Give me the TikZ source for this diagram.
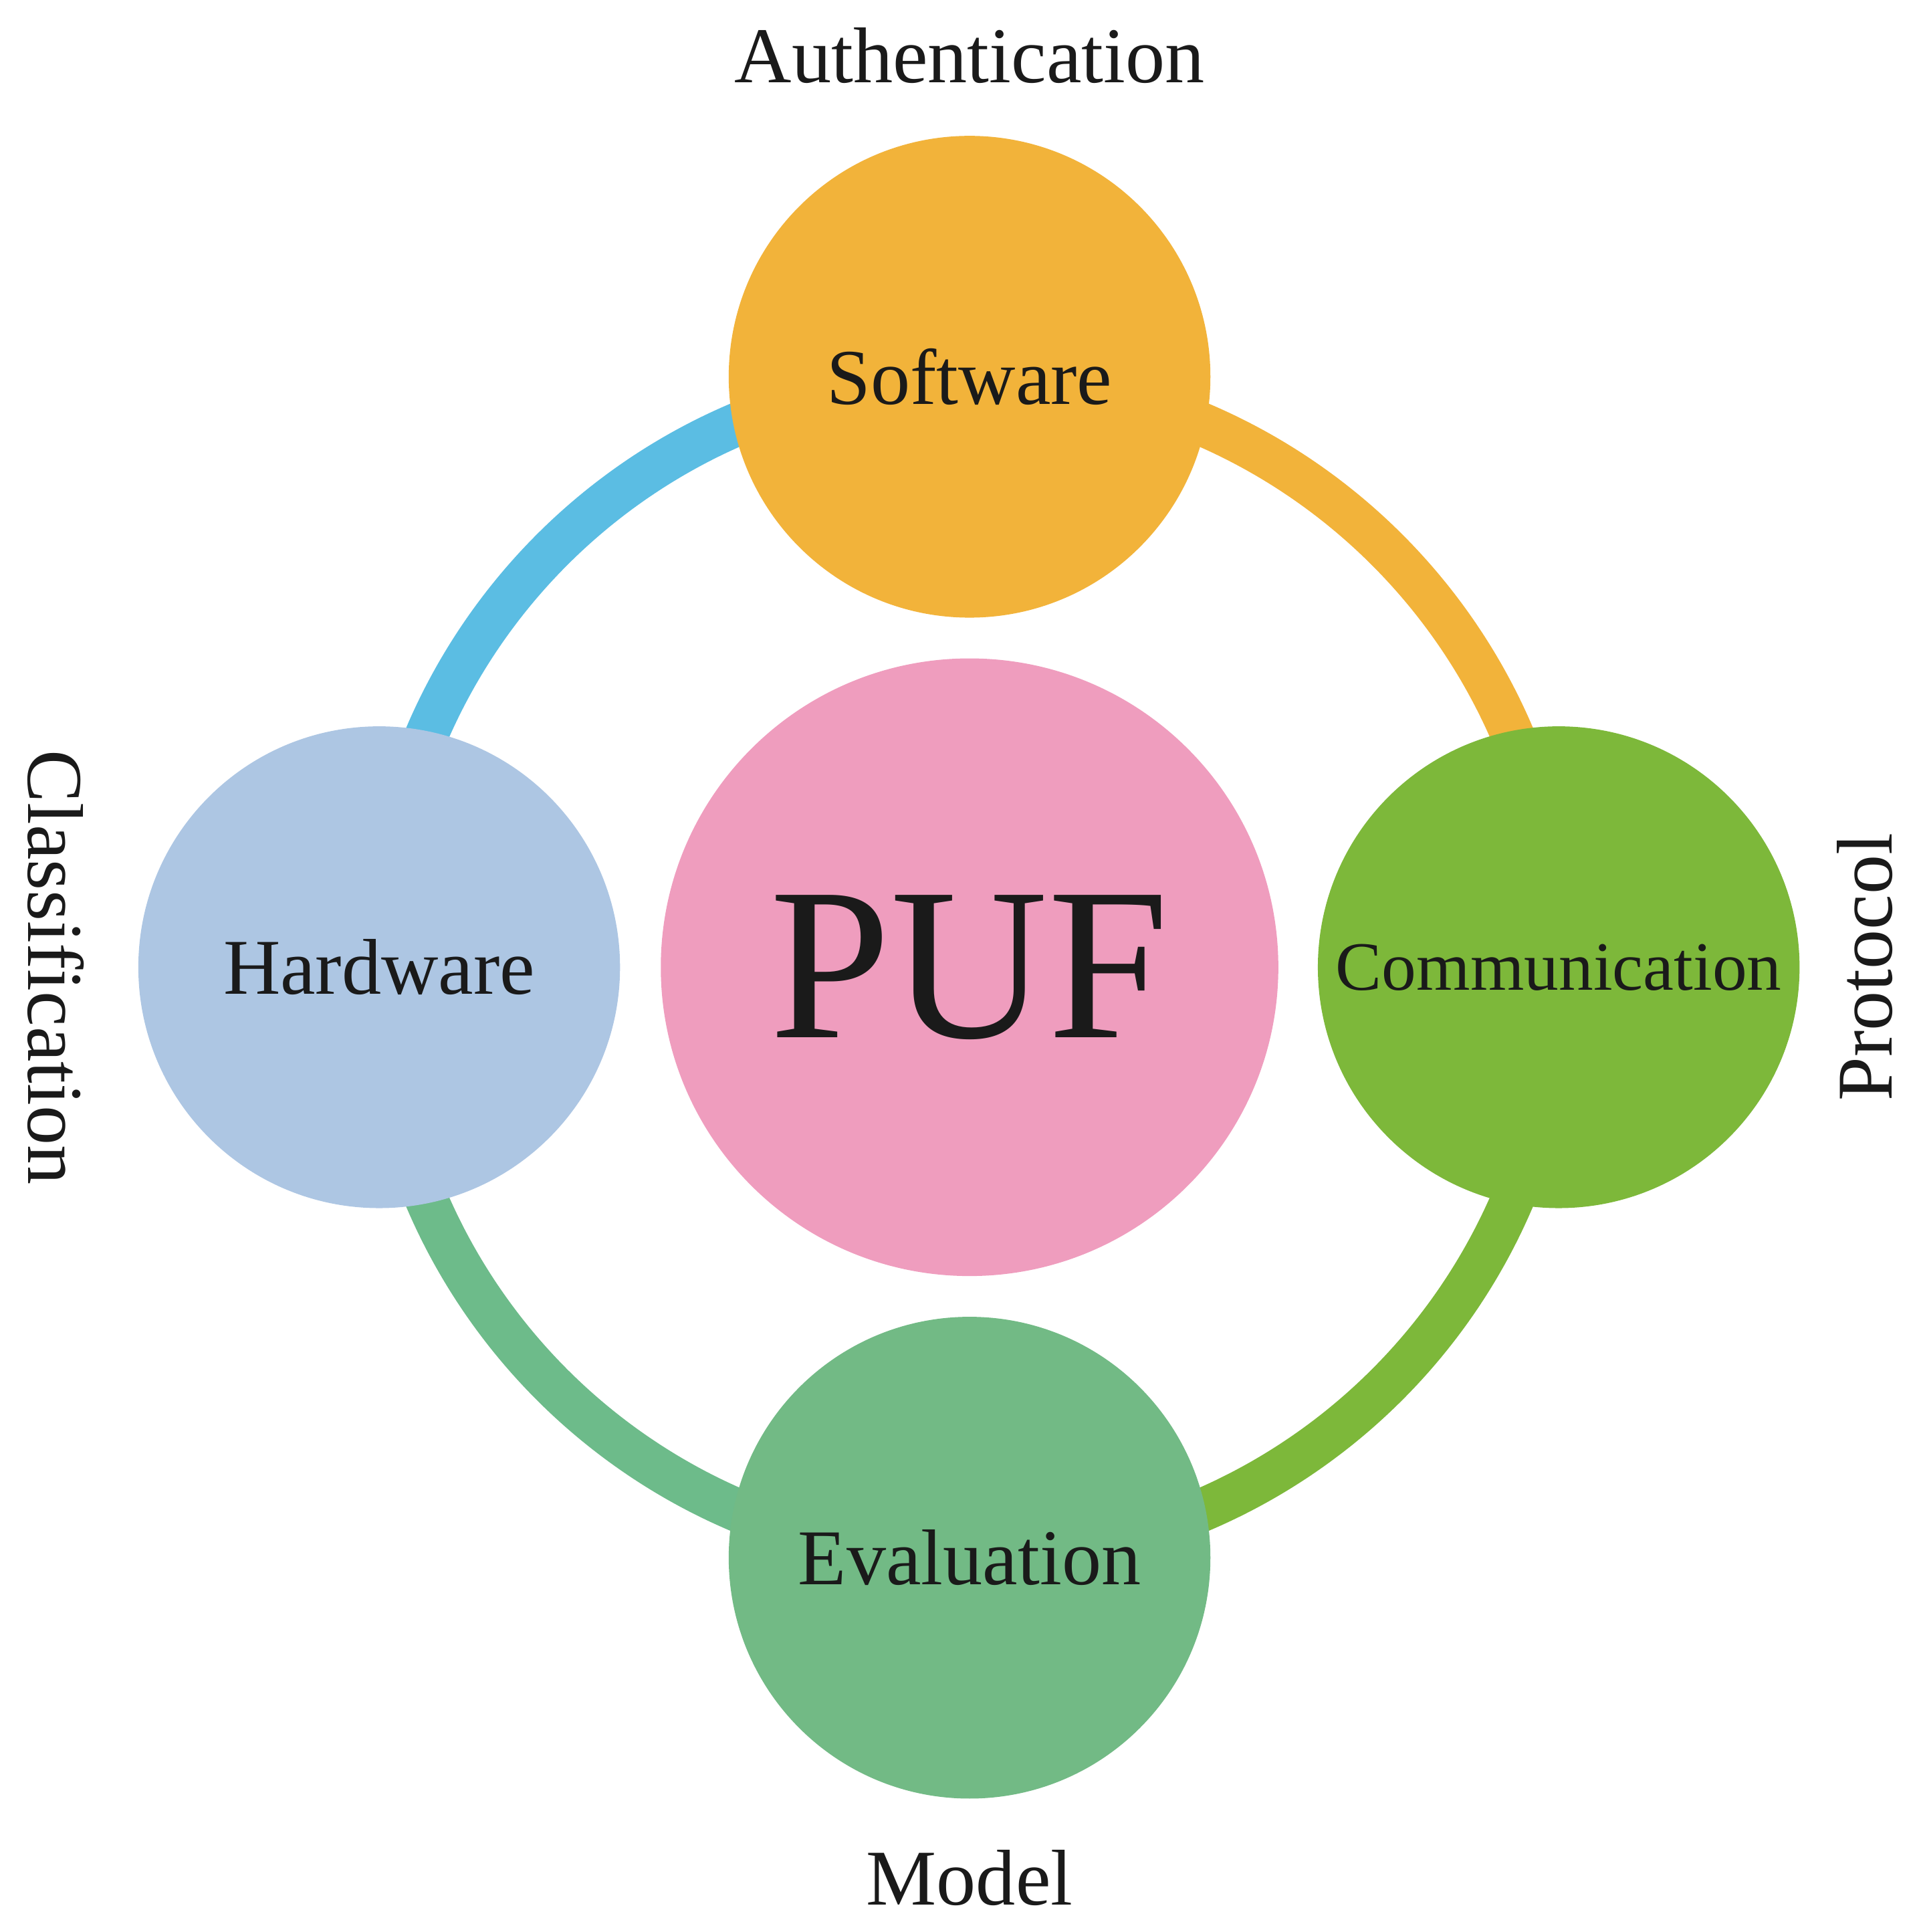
\documentclass[tikz,border=0pt]{standalone}
\usepackage{fontspec}
\setmainfont{Liberation Serif}
\definecolor{cOr}{HTML}{F2B33A}
\definecolor{cBl}{HTML}{5BBDE3}
\definecolor{cGr}{HTML}{7DB83A}
\definecolor{cTe}{HTML}{6DBB8A}
\definecolor{cPk}{HTML}{EF9DBE}
\definecolor{cLb}{HTML}{ADC6E3}
\definecolor{cEv}{HTML}{72BA85}
\definecolor{txt}{HTML}{1A1A1A}
\begin{document}
\begin{tikzpicture}[x=0.5pt,y=0.5pt,
  ball/.style={circle,minimum size=195pt,inner sep=0pt,text=txt,font=\fontsize{32}{36}\selectfont},
  lab/.style={text=txt,font=\fontsize{32}{36}\selectfont},
  ring/.style={line width=17.5pt}]
\useasboundingbox (0,0) rectangle (1555,1564);
\coordinate (c) at (785,781);
\draw[ring,cOr] (c) ++(0:478) arc (0:90:478);
\draw[ring,cBl] (c) ++(90:478) arc (90:180:478);
\draw[ring,cTe] (c) ++(180:478) arc (180:270:478);
\draw[ring,cGr] (c) ++(270:478) arc (270:360:478);
\node[ball,fill=cPk,minimum size=250pt,font=\fontsize{88}{90}\selectfont] (puf) at (c) {PUF};
\node[ball,fill=cOr] (sw) at (785,1259) {Software};
\node[ball,fill=cLb] (hw) at (307,781) {Hardware};
\node[ball,fill=cGr,font=\fontsize{28}{32}\selectfont] (cm) at (1262,781) {Communication};
\node[ball,fill=cEv] (ev) at (785,303) {Evaluation};
\node[lab] (au) at (785,1519) {Authentication};
\node[lab] (mo) at (785,44) {Model};
\node[lab,rotate=-90] (cl) at (45,781) {Classification};
\node[lab,rotate=90] (pr) at (1510,781) {Protocol};
\end{tikzpicture}
\end{document}
